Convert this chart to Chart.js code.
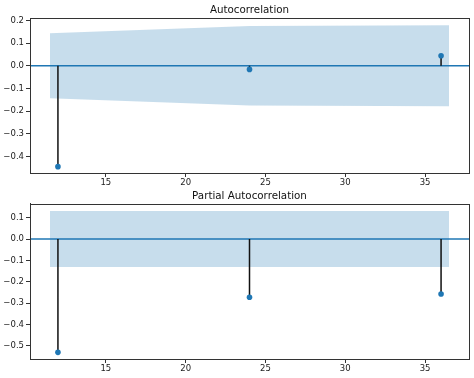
<!DOCTYPE html>
<html>
<head>
<meta charset="utf-8">
<script src="https://cdn.jsdelivr.net/npm/chart.js@4"></script>
<style>
  body { margin: 0; background: #fff; }
  #wrap { position: relative; width: 474px; height: 378px; }
  canvas { position: absolute; left: 0; }
</style>
</head>
<body>
<div id="wrap">
  <canvas id="acfChart" width="474" height="190" style="top:0px"></canvas>
  <canvas id="pacfChart" width="474" height="190" style="top:188px"></canvas>
</div>
<script>
// lags shown on the plots
const lags = [12, 24, 36];
const acfValues = [-0.445, -0.016, 0.044];
const pacfValues = [-0.53, -0.272, -0.257];

// confidence band (x positions where band changes, half-width)
const bandX = [11.5, 24, 36.5];
const acfBand = [0.143, 0.175, 0.179];
const pacfBand = [0.131, 0.131, 0.131];

const xTicks = [15, 20, 25, 30, 35];
const acfYTicks = [0.2, 0.1, 0.0, -0.1, -0.2, -0.3, -0.4];
const pacfYTicks = [0.1, 0.0, -0.1, -0.2, -0.3, -0.4, -0.5];

const xMin = 10.25, xMax = 37.75;

const blue = '#1f77b4';
const fmt = v => v.toFixed(1).replace('-', '\u2212');

// draws the box round the plot area
const frame = {
  id: 'frame',
  afterDraw(chart) {
    const a = chart.chartArea, ctx = chart.ctx;
    ctx.save();
    ctx.strokeStyle = '#333';
    ctx.lineWidth = 1;
    ctx.strokeRect(Math.round(a.left) + 0.5, Math.round(a.top) + 0.5,
                   Math.round(a.right - a.left), Math.round(a.bottom - a.top));
    ctx.restore();
  }
};

function makeChart(id, title, values, band, yTicks, yMin, yMax, opts) {
  const stems = [];
  lags.forEach((lag, i) => {
    stems.push({x: lag, y: 0}, {x: lag, y: values[i]}, {x: lag, y: null});
  });

  const ctx = document.getElementById(id).getContext('2d');
  return new Chart(ctx, {
    type: 'line',
    data: {
      datasets: [
        {
          data: lags.map((lag, i) => ({x: lag, y: values[i]})),
          showLine: false,
          pointRadius: 2.8,
          pointBackgroundColor: blue,
          pointBorderColor: blue,
          pointBorderWidth: 0
        },
        {
          data: stems,
          borderColor: '#111',
          borderWidth: 1.5,
          pointRadius: 0,
          spanGaps: false
        },
        {
          data: [{x: xMin, y: 0}, {x: xMax, y: 0}],
          borderColor: blue,
          borderWidth: 1.5,
          pointRadius: 0
        },
        {
          data: bandX.map((x, i) => ({x: x, y: band[i]})),
          borderWidth: 0,
          pointRadius: 0,
          backgroundColor: 'rgba(31,119,180,0.25)',
          fill: '+1'
        },
        {
          data: bandX.map((x, i) => ({x: x, y: -band[i]})),
          borderWidth: 0,
          pointRadius: 0
        }
      ]
    },
    options: {
      responsive: false,
      animation: false,
      devicePixelRatio: 1,
      layout: { padding: { left: 0, right: 5, top: 0, bottom: 0 } },
      plugins: {
        legend: { display: false },
        tooltip: { enabled: false },
        title: {
          display: true,
          fullSize: false,
          text: title,
          color: '#111',
          font: { family: 'DejaVu Sans', size: 10.3, weight: 'normal' },
          padding: opts.titlePad
        }
      },
      scales: {
        x: {
          type: 'linear',
          min: xMin,
          max: xMax,
          afterBuildTicks: s => { s.ticks = xTicks.map(v => ({value: v})); },
          afterFit: s => { s.height = opts.xHeight; },
          grid: { drawOnChartArea: false, tickLength: 4, color: '#333' },
          border: { color: '#333' },
          ticks: {
            color: '#222',
            padding: 1,
            maxRotation: 0,
            font: { family: 'DejaVu Sans', size: 8.5 },
            callback: v => String(v)
          }
        },
        y: {
          min: yMin,
          max: yMax,
          afterBuildTicks: s => { s.ticks = yTicks.map(v => ({value: v})); },
          afterFit: s => { s.width = 30; },
          grid: { drawOnChartArea: false, tickLength: 4, color: '#333' },
          border: { color: '#333' },
          ticks: {
            color: '#222',
            padding: 2,
            font: { family: 'DejaVu Sans', size: 8.5 },
            callback: v => fmt(v)
          }
        }
      }
    },
    plugins: [frame]
  });
}

makeChart('acfChart', 'Autocorrelation', acfValues, acfBand, acfYTicks, -0.473, 0.209,
  { titlePad: { top: 4.5, bottom: 1.5 }, xHeight: 17 });
makeChart('pacfChart', 'Partial Autocorrelation', pacfValues, pacfBand, pacfYTicks, -0.561, 0.164,
  { titlePad: { top: 2, bottom: 1.6 }, xHeight: 19 });
</script>
</body>
</html>
